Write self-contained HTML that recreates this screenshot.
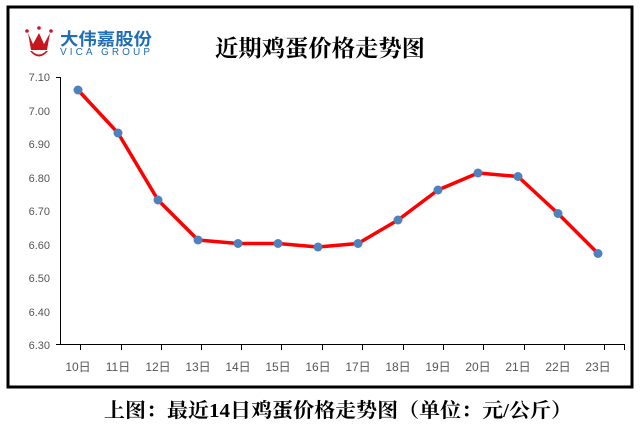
<!DOCTYPE html>
<html><head><meta charset="utf-8"><style>
body{margin:0;background:#fff;width:642px;height:422px;overflow:hidden}
</style></head><body>
<svg width="642" height="422" xmlns="http://www.w3.org/2000/svg" font-family="Liberation Sans, Noto Sans CJK SC, sans-serif">
<rect x="8" y="7" width="624" height="380" fill="#fff" stroke="#000" stroke-width="3"/>
<!-- logo -->
<g fill="#c8161d">
<path d="M28 33 L33 44 L39 33 L44 44 L50 33 L47 50 L31 50 Z"/>
<circle cx="27" cy="31" r="1.8"/><circle cx="39" cy="28" r="1.8"/><circle cx="51" cy="31" r="1.8"/>
<path d="M30 51 Q39 62 48 51 L46 51 Q39 58 32 51Z"/>
</g>
<text x="60" y="45" font-size="17" font-weight="bold" fill="#1f6db5" font-family="Noto Sans CJK SC, sans-serif" textLength="92" lengthAdjust="spacingAndGlyphs">大伟嘉股份</text>
<text x="60" y="55" font-size="10" fill="#1f6db5" textLength="90" lengthAdjust="spacing">VICA GROUP</text>
<text x="215" y="56" font-size="23" font-weight="bold" fill="#000" font-family="Noto Serif CJK SC, serif" textLength="210" lengthAdjust="spacingAndGlyphs">近期鸡蛋价格走势图</text>
<!-- axes -->
<g stroke="#000" stroke-width="1">
<line x1="60.5" y1="77" x2="60.5" y2="345"/>
<line x1="60" y1="344.5" x2="625" y2="344.5"/>
<line x1="56" y1="77.5" x2="60" y2="77.5"/>
<line x1="56" y1="344.5" x2="60" y2="344.5"/>
</g>
<g stroke="#000">
<line x1="80.5" y1="345" x2="80.5" y2="350"/><line x1="121.5" y1="345" x2="121.5" y2="350"/><line x1="161.5" y1="345" x2="161.5" y2="350"/><line x1="201.5" y1="345" x2="201.5" y2="350"/><line x1="241.5" y1="345" x2="241.5" y2="350"/><line x1="281.5" y1="345" x2="281.5" y2="350"/><line x1="322.5" y1="345" x2="322.5" y2="350"/><line x1="362.5" y1="345" x2="362.5" y2="350"/><line x1="403.5" y1="345" x2="403.5" y2="350"/><line x1="443.5" y1="345" x2="443.5" y2="350"/><line x1="483.5" y1="345" x2="483.5" y2="350"/><line x1="524.5" y1="345" x2="524.5" y2="350"/><line x1="564.5" y1="345" x2="564.5" y2="350"/><line x1="604.5" y1="345" x2="604.5" y2="350"/><line x1="624.5" y1="345" x2="624.5" y2="350"/>
</g>
<g font-size="11" fill="#555" text-anchor="end">
<text x="50" y="81">7.10</text><text x="50" y="115">7.00</text><text x="50" y="148">6.90</text><text x="50" y="182">6.80</text><text x="50" y="215">6.70</text><text x="50" y="249">6.60</text><text x="50" y="282">6.50</text><text x="50" y="316">6.40</text><text x="50" y="349">6.30</text>
</g>
<g font-size="12" fill="#555" text-anchor="middle">
<text x="78" y="371">10日</text><text x="118" y="371">11日</text><text x="158" y="371">12日</text><text x="198" y="371">13日</text><text x="238" y="371">14日</text><text x="278" y="371">15日</text><text x="318" y="371">16日</text><text x="358" y="371">17日</text><text x="398" y="371">18日</text><text x="438" y="371">19日</text><text x="478" y="371">20日</text><text x="518" y="371">21日</text><text x="558" y="371">22日</text><text x="598" y="371">23日</text>
</g>
<polyline fill="none" stroke="#f00" stroke-width="3.5" stroke-linejoin="round" points="78,90 118,133 158,200 198,240 238,243.5 278,243.5 318,247 358,243.5 398,220 438,190 478,173 518,176.5 558,213.5 598,253.5"/>
<g fill="#4f81bd">
<circle cx="78" cy="90" r="4.5"/><circle cx="118" cy="133" r="4.5"/><circle cx="158" cy="200" r="4.5"/><circle cx="198" cy="240" r="4.5"/><circle cx="238" cy="243.5" r="4.5"/><circle cx="278" cy="243.5" r="4.5"/><circle cx="318" cy="247" r="4.5"/><circle cx="358" cy="243.5" r="4.5"/><circle cx="398" cy="220" r="4.5"/><circle cx="438" cy="190" r="4.5"/><circle cx="478" cy="173" r="4.5"/><circle cx="518" cy="176.5" r="4.5"/><circle cx="558" cy="213.5" r="4.5"/><circle cx="598" cy="253.5" r="4.5"/>
</g>
<text x="104" y="417" font-size="20" font-weight="bold" fill="#000" font-family="Liberation Serif, Noto Serif CJK SC, serif" textLength="468" lengthAdjust="spacingAndGlyphs">上图：最近14日鸡蛋价格走势图（单位：元/公斤）</text>
</svg>
</body></html>
